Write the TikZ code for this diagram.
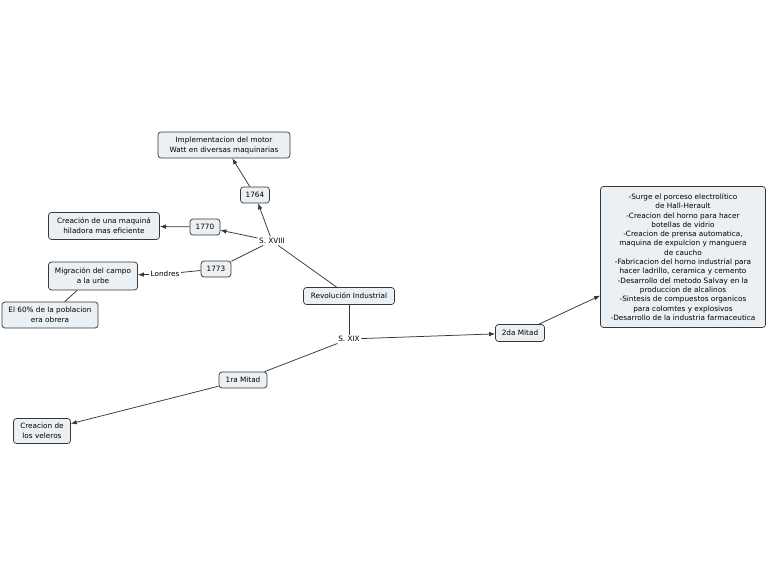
\documentclass[tikz,border=0pt]{standalone}
\usepackage{fontspec}
\setmainfont{DejaVu Sans}
\definecolor{cmfill}{RGB}{234,240,243}
\definecolor{cmline}{RGB}{55,55,55}
\usetikzlibrary{arrows.meta}

\begin{document}
\begin{tikzpicture}[x=1pt,y=-1pt,
  concept/.style={draw=cmline,fill=cmfill,line width=0.7pt,rounded corners=3pt,align=center,
    inner sep=1pt,font=\fontsize{7.3}{10}\selectfont},
  link/.style={inner sep=1.5pt,font=\fontsize{7.3}{10}\selectfont},
  conn/.style={draw=cmline,line width=0.75pt},
  arr/.style={conn,-{Latex[length=6pt,width=4.5pt]}}]
  \useasboundingbox[fill=white] (0,0) rectangle (768,578);
  % Concepts
  \node[concept,minimum width=132,minimum height=26] (impl) at (224,145)
    {Implementacion del motor\\Watt en diversas maquinarias};
  \node[concept,minimum width=29,minimum height=16] (y1764) at (255,195) {1764};
  \node[concept,minimum width=30,minimum height=16] (y1770) at (205,227) {1770};
  \node[concept,minimum width=111,minimum height=27] (maquina) at (104,226)
    {Creación de una maquiná\\hiladora mas eficiente};
  \node[concept,minimum width=30,minimum height=16] (y1773) at (216,269) {1773};
  \node[concept,minimum width=89,minimum height=28] (migra) at (93,276)
    {Migración del campo\\a la urbe};
  \node[concept,minimum width=96,minimum height=26] (pobla) at (50,315)
    {El 60\% de la poblacion\\era obrera};
  \node[concept,minimum width=91,minimum height=17] (revol) at (349,296) {Revolución Industrial};
  \node[concept,minimum width=49,minimum height=17] (mitad2) at (520,333) {2da Mitad};
  \node[concept,minimum width=165,minimum height=141,font=\fontsize{7.3}{9.3}\selectfont] (avances) at (683,257)
    {-Surge el porceso electrolítico\\de Hall-Herault\\-Creacion del horno para hacer\\botellas de vidrio\\
     -Creacion de prensa automatica,\\maquina de expulcion y manguera\\de caucho\\
     -Fabricacion del horno industrial para\\hacer ladrillo, ceramica y cemento\\
     -Desarrollo del metodo Salvay en la\\produccion de alcalinos\\
     -Sintesis de compuestos organicos\\para colomtes y explosivos\\
     -Desarrollo de la industria farmaceutica};
  \node[concept,minimum width=48,minimum height=16] (mitad1) at (243,380) {1ra Mitad};
  \node[concept,minimum width=57,minimum height=25] (veleros) at (42,431)
    {Creacion de\\los veleros};
  % Linking phrases
  \node[link] (sxviii) at (272,241) {S. XVIII};
  \node[link] (londres) at (165,274) {Londres};
  \node[link] (sxix) at (349,339) {S. XIX};
  % Connectors
  \draw[conn] (revol) -- (sxviii);
  \draw[arr] (sxviii) -- (y1764);
  \draw[arr] (y1764) -- (impl);
  \draw[arr] (sxviii) -- (y1770);
  \draw[arr] (y1770) -- (maquina);
  \draw[conn] (sxviii) -- (y1773);
  \draw[conn] (y1773) -- (londres);
  \draw[arr] (londres) -- (migra);
  \draw[conn] (migra) -- (pobla);
  \draw[conn] (revol) -- (sxix);
  \draw[arr] (sxix) -- (mitad2);
  \draw[arr] (mitad2) -- (avances);
  \draw[conn] (sxix) -- (mitad1);
  \draw[arr] (mitad1) -- (veleros);
\end{tikzpicture}
\end{document}
